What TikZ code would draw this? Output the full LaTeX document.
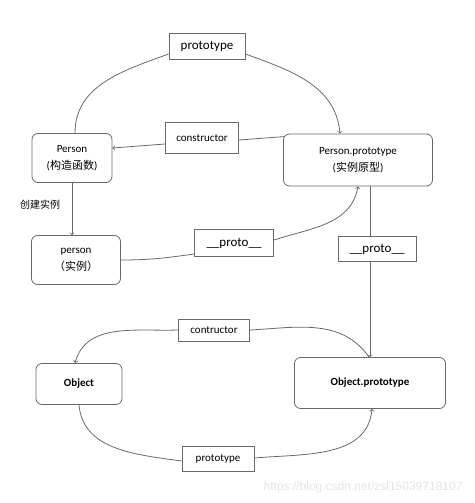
\documentclass[tikz,border=0pt]{standalone}
\usepackage{fontspec}
\setmainfont{Carlito}
\newfontfamily\cjk{Noto Sans CJK SC}
\newfontfamily\wmfont{Liberation Sans}
\usepackage{xcolor}
\definecolor{linegray}{RGB}{105,105,105}
\definecolor{markgray}{RGB}{228,228,228}

\begin{document}
\begin{tikzpicture}[x=1pt, y=1pt,
    box/.style={draw=linegray, line width=0.8pt, inner sep=0pt, align=center,
        font=\fontsize{11}{17}\selectfont},
    rbox/.style={box, rounded corners=6pt},
    link/.style={draw=linegray, line width=0.8pt},
    >=to]

\useasboundingbox (0,0) rectangle (474,-503);

\node[box, minimum width=76, minimum height=26, font=\fontsize{13}{15}\selectfont] (protoTop) at (207,-46) {prototype};
\node[rbox, minimum width=80, minimum height=49] (fn) at (72,-158) {Person\\({\cjk 构造函数})};
\node[box, minimum width=73, minimum height=31] (ctorTop) at (202,-138) {constructor};
\node[rbox, minimum width=149, minimum height=52] (pproto) at (358,-160) {Person.prototype\\({\cjk 实例原型})};
\node[font=\cjk\fontsize{10}{12}\selectfont] (mk) at (40,-205) {创建实例};
\node[rbox, minimum width=89, minimum height=49] (inst) at (76,-260) {person\\{\cjk （实例）}};
\node[box, minimum width=79, minimum height=27, font=\fontsize{13}{15}\selectfont] (protoA) at (234,-243) {\_\_proto\_\_};
\node[box, minimum width=78, minimum height=25, font=\fontsize{13}{15}\selectfont] (protoB) at (377,-249) {\_\_proto\_\_};

\node[box, minimum width=71, minimum height=22] (ctorBot) at (214,-330) {contructor};
\node[rbox, minimum width=86, minimum height=41, font=\bfseries\fontsize{11}{13}\selectfont] (obj) at (79,-384) {Object};
\node[rbox, minimum width=151, minimum height=51, font=\bfseries\fontsize{11}{13}\selectfont] (objproto) at (370,-383) {Object.prototype};
\node[box, minimum width=72, minimum height=25] (protoBot) at (218,-459) {prototype};

\node[anchor=east, text=markgray, font=\wmfont\fontsize{12}{14}\selectfont] (mark) at (466,-487) {https://blog.csdn.net/zsl15039718107};

\draw [link] ([xshift=3pt]fn.north) to[out=90, in=200] ([yshift=-8pt]protoTop.west);
\draw [link, ->] ([yshift=-8pt]protoTop.east) to[out=-20, in=95] ([xshift=-18pt]pproto.north);

\draw [link] ([xshift=1pt, yshift=-3pt]pproto.north west) -- ([yshift=-2pt]ctorTop.east);
\draw [link, ->] ([yshift=-6pt]ctorTop.west) -- ([yshift=10pt]fn.east);

\draw [link, ->] (fn.south) -- (fn.south |- inst.north);

\draw [link] (inst.east) to[out=0, in=188] ([yshift=-11pt]protoA.west);
\draw [link, ->] ([yshift=3pt]protoA.east) to[out=18, in=-100] (pproto.south);

\draw [link] (objproto.north |- pproto.south) -- (objproto.north |- protoB.north);
\draw [link, ->] (objproto.north |- protoB.south) -- (objproto.north);

\draw [link] ([xshift=-1pt]objproto.north) to[out=125, in=3] (ctorBot.east);
\draw [link, ->] (ctorBot.west) to[out=182, in=75] ([xshift=-4pt]obj.north);

\draw [link] (obj.south) to[out=-85, in=172] ([yshift=-2pt]protoBot.west);
\draw [link, ->] ([yshift=1pt]protoBot.east) to[out=5, in=-95] ([xshift=2pt]objproto.south);

\end{tikzpicture}
\end{document}
